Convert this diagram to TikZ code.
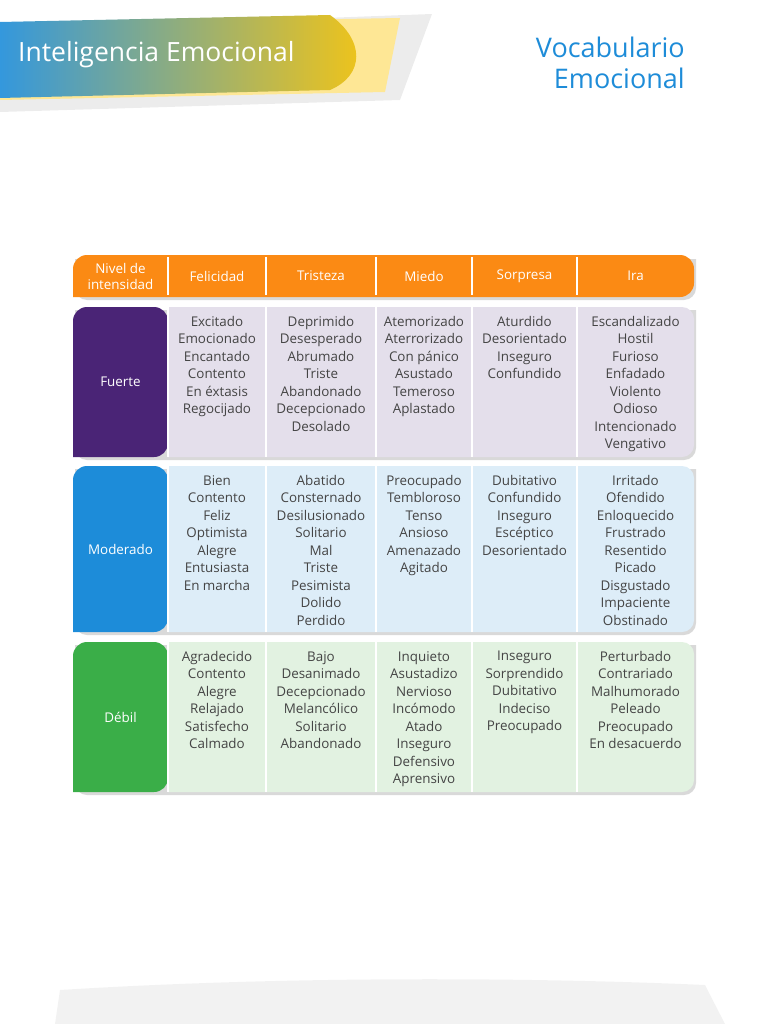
\documentclass[tikz,border=0pt]{standalone}
\usepackage{fontspec}
\setmainfont{Open Sans}
\usetikzlibrary{shadows}
\definecolor{org}{HTML}{FB8A14}
\definecolor{pur}{HTML}{4A2476}
\definecolor{purbg}{HTML}{E4DFEB}
\definecolor{blu}{HTML}{1D8CD9}
\definecolor{blubg}{HTML}{DDEDF8}
\definecolor{grn}{HTML}{3AAE48}
\definecolor{grnbg}{HTML}{E2F2E1}
\definecolor{ttl}{HTML}{1E8CD8}
\definecolor{txt}{HTML}{444444}
\tikzset{
 cell/.style={align=center,font=\fontsize{13.4}{17.5}\selectfont,text=txt,anchor=north,inner sep=0pt},
 hdr/.style={align=center,font=\fontsize{13.4}{16}\selectfont,text=white,inner sep=0pt},
 lvl/.style={font=\fontsize{13.4}{16}\selectfont,text=white,inner sep=0pt},
 sep/.style={white,line width=1.5pt}
}
\begin{document}
\begin{tikzpicture}[x=1pt,y=-1pt]
\useasboundingbox (0,0) rectangle (768,1024);
% banner
\fill[gray!15] (0,30) -- (432,14) -- (400,100) -- (0,112) -- cycle;
\fill[yellow!60!orange!40] (0,25) -- (400,18) -- (385,92) -- (0,100) -- cycle;
\shade[left color=blu!90, right color={rgb,255:red,240;green,196;blue,25}] (0,22) -- (330,15) .. controls (365,40) and (365,75) .. (330,90) -- (0,98) -- cycle;
\node[hdr,anchor=west,font=\fontsize{26.5}{30}\selectfont] (bt) at (18,55) {Inteligencia Emocional};
\node[align=right,text=ttl,font=\fontsize{27}{31}\selectfont,anchor=east,inner sep=0pt] (tt) at (685,63) {Vocabulario\\Emocional};
% bottom brush
\fill[gray!10] (60,990) .. controls (300,975) and (550,978) .. (705,985) -- (725,1024) -- (55,1024) -- cycle;
% header
\fill[gray!30] (75,259) [rounded corners=12pt] -- (75,300) -- (696,300) -- (696,259);
\fill[org] (73,297) [rounded corners=14pt]-- (73,255) -- (694,255) -- (694,297) [sharp corners]-- cycle;
\foreach \x in {168,266,376,472,577} \draw[sep] (\x,257) -- (\x,295);
\node[hdr] (h0) at (120.5,276) {Nivel de\\intensidad};
\node[hdr] (h1) at (217,276) {Felicidad};
\node[hdr] (h2) at (321,276) {Tristeza};
\node[hdr] (h3) at (424,276) {Miedo};
\node[hdr] (h4) at (524.5,276) {Sorpresa};
\node[hdr] (h5) at (635.5,276) {Ira};
% rows
\foreach \ya/\yb/\c/\bg/\lab [count=\i] in {307/457/pur/purbg/Fuerte,466/632/blu/blubg/Moderado,642/792/grn/grnbg/Débil}{
 \fill[gray!30] (75,\ya+3) [rounded corners=12pt] -- (75,\yb+3) -- (696,\yb+3) -- (696,\ya+3);
 \fill[\bg] (168,\ya) [rounded corners=12pt] -- (694,\ya) -- (694,\yb) [sharp corners] -- (168,\yb) -- cycle;
 \fill[\c] (73,\yb) [rounded corners=14pt] -- (73,\ya) -- (168,\ya) -- (168,\yb) [sharp corners] -- cycle;
 \fill[\c] (73,\yb-14) -- (73,\yb) -- (100,\yb) -- (100,\yb-14) -- cycle;
 \foreach \x in {266,376,472,577} \draw[sep] (\x,\ya) -- (\x,\yb);
 \draw[sep] (168,\ya) -- (168,\yb);
 \node[lvl] (l\i) at (120.5,{(\ya+\yb)/2}) {\lab};
}
% Fuerte
\node[cell] (f1) at (217,316) {Excitado\\Emocionado\\Encantado\\Contento\\En éxtasis\\Regocijado};
\node[cell] (f2) at (321,316) {Deprimido\\Desesperado\\Abrumado\\Triste\\Abandonado\\Decepcionado\\Desolado};
\node[cell] (f3) at (424,316) {Atemorizado\\Aterrorizado\\Con pánico\\Asustado\\Temeroso\\Aplastado};
\node[cell] (f4) at (524.5,316) {Aturdido\\Desorientado\\Inseguro\\Confundido};
\node[cell] (f5) at (635.5,316) {Escandalizado\\Hostil\\Furioso\\Enfadado\\Violento\\Odioso\\Intencionado\\Vengativo};
% Moderado
\node[cell] (m1) at (217,475) {Bien\\Contento\\Feliz\\Optimista\\Alegre\\Entusiasta\\En marcha};
\node[cell] (m2) at (321,475) {Abatido\\Consternado\\Desilusionado\\Solitario\\Mal\\Triste\\Pesimista\\Dolido\\Perdido};
\node[cell] (m3) at (424,475) {Preocupado\\Tembloroso\\Tenso\\Ansioso\\Amenazado\\Agitado};
\node[cell] (m4) at (524.5,475) {Dubitativo\\Confundido\\Inseguro\\Escéptico\\Desorientado};
\node[cell] (m5) at (635.5,475) {Irritado\\Ofendido\\Enloquecido\\Frustrado\\Resentido\\Picado\\Disgustado\\Impaciente\\Obstinado};
% Debil
\node[cell] (d1) at (217,651) {Agradecido\\Contento\\Alegre\\Relajado\\Satisfecho\\Calmado};
\node[cell] (d2) at (321,651) {Bajo\\Desanimado\\Decepcionado\\Melancólico\\Solitario\\Abandonado};
\node[cell] (d3) at (424,651) {Inquieto\\Asustadizo\\Nervioso\\Incómodo\\Atado\\Inseguro\\Defensivo\\Aprensivo};
\node[cell] (d4) at (524.5,651) {Inseguro\\Sorprendido\\Dubitativo\\Indeciso\\Preocupado};
\node[cell] (d5) at (635.5,651) {Perturbado\\Contrariado\\Malhumorado\\Peleado\\Preocupado\\En desacuerdo};
\end{tikzpicture}
\end{document}
